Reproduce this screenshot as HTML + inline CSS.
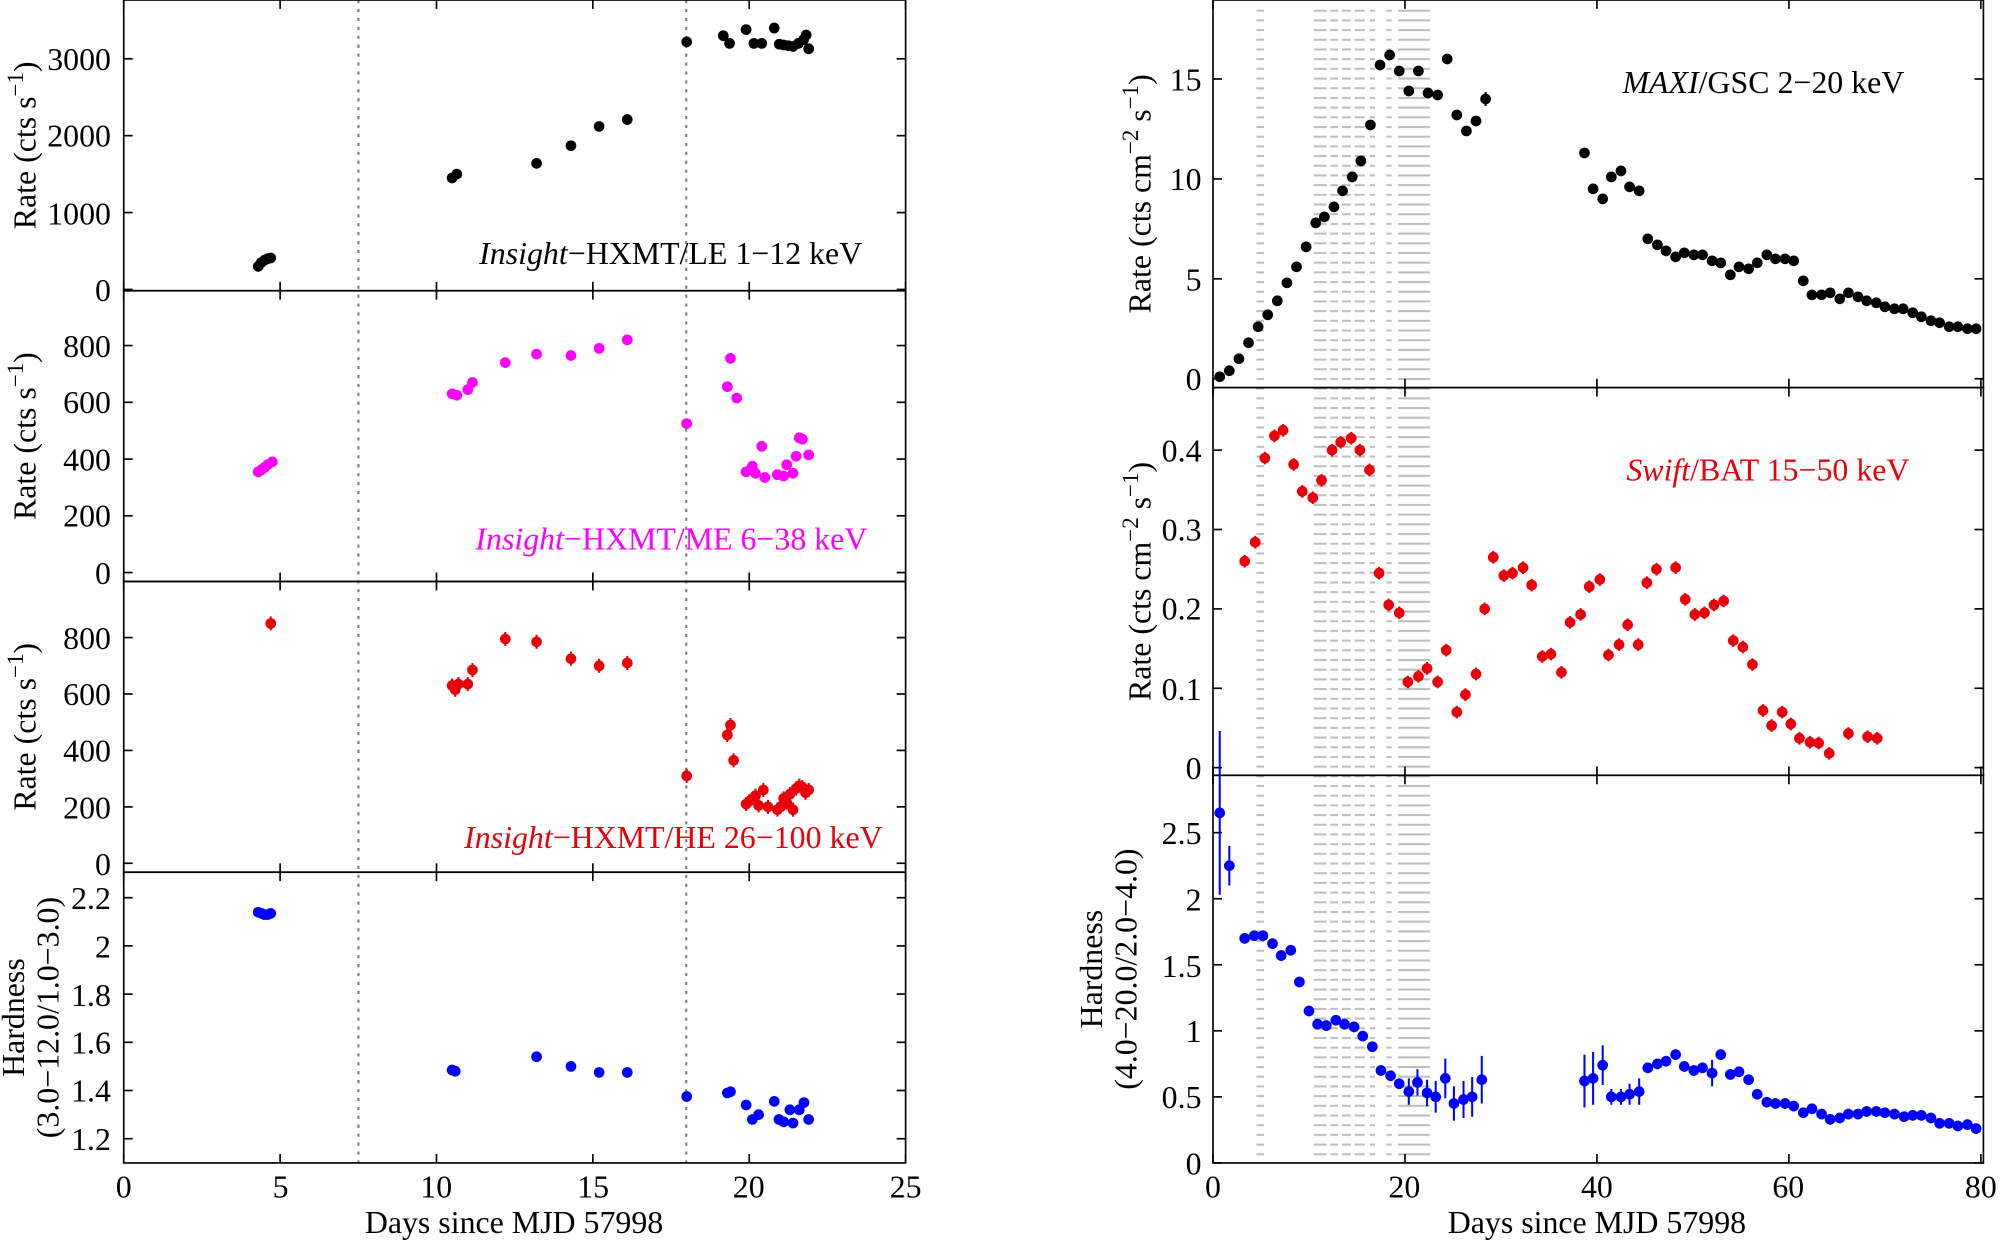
<!DOCTYPE html>
<html><head><meta charset="utf-8"><style>
html,body{margin:0;padding:0;background:#fff;}
svg{display:block;}
text{font-family:"Liberation Serif","Times New Roman",serif;fill:#000;}
</style></head><body>
<svg id="s" width="2000" height="1242" viewBox="0 0 1568 974" preserveAspectRatio="none" xmlns="http://www.w3.org/2000/svg">
<defs>
<pattern id="hp" x="0" y="0" width="4" height="7.6" patternUnits="userSpaceOnUse">
<rect x="0" y="0" width="4" height="1.6" fill="#bdbdbd"/>
</pattern>
</defs>
<rect width="1568" height="974" fill="#fff"/>
<g>
<rect x="985" y="2" width="6" height="910" fill="url(#hp)"/>
<rect x="1030" y="2" width="10" height="910" fill="url(#hp)"/>
<rect x="1043" y="2" width="6" height="910" fill="url(#hp)"/>
<rect x="1052" y="2" width="7" height="910" fill="url(#hp)"/>
<rect x="1062" y="2" width="8" height="910" fill="url(#hp)"/>
<rect x="1074" y="2" width="4" height="910" fill="url(#hp)"/>
<rect x="1087" y="2" width="4" height="910" fill="url(#hp)"/>
<rect x="1096" y="2" width="25" height="910" fill="url(#hp)"/>
</g>
<g id="g"></g>
<g font-size="25" font-family="Liberation Serif, Times New Roman, serif">
<g text-anchor="end">
<text x="87" y="236">0</text><text x="87" y="176">1000</text><text x="87" y="115">2000</text><text x="87" y="55">3000</text>
<text x="87" y="458">0</text><text x="87" y="413">200</text><text x="87" y="369">400</text><text x="87" y="324">600</text><text x="87" y="280">800</text>
<text x="87" y="686">0</text><text x="87" y="642">200</text><text x="87" y="597">400</text><text x="87" y="553">600</text><text x="87" y="509">800</text>
<text x="87" y="902">1.2</text><text x="87" y="864">1.4</text><text x="87" y="826">1.6</text><text x="87" y="789">1.8</text><text x="87" y="751">2</text><text x="87" y="713">2.2</text>
<text x="942" y="306">0</text><text x="942" y="228">5</text><text x="942" y="149">10</text><text x="942" y="71">15</text>
<text x="942" y="611">0</text><text x="942" y="549">0.1</text><text x="942" y="486">0.2</text><text x="942" y="424">0.3</text><text x="942" y="362">0.4</text>
<text x="942" y="921">0</text><text x="942" y="869">0.5</text><text x="942" y="817">1</text><text x="942" y="766">1.5</text><text x="942" y="714">2</text><text x="942" y="662">2.5</text>
</g>
<g text-anchor="middle">
<text x="97" y="939">0</text><text x="220" y="939">5</text><text x="342" y="939">10</text><text x="465" y="939">15</text><text x="587" y="939">20</text><text x="710" y="939">25</text>
<text x="951" y="939">0</text><text x="1101" y="939">20</text><text x="1252" y="939">40</text><text x="1402" y="939">60</text><text x="1553" y="939">80</text>
<text x="403" y="967">Days since MJD 57998</text>
<text x="1252" y="967">Days since MJD 57998</text>
</g>
<g text-anchor="middle">
<text transform="translate(28,114) rotate(-90)">Rate (cts s<tspan dy="-10" font-size="18">−1</tspan><tspan dy="10">)</tspan></text>
<text transform="translate(28,342) rotate(-90)">Rate (cts s<tspan dy="-10" font-size="18">−1</tspan><tspan dy="10">)</tspan></text>
<text transform="translate(28,570) rotate(-90)">Rate (cts s<tspan dy="-10" font-size="18">−1</tspan><tspan dy="10">)</tspan></text>
<text transform="translate(19,798) rotate(-90)">Hardness</text>
<text transform="translate(46,798) rotate(-90)">(3.0−12.0/1.0−3.0)</text>
<text transform="translate(902,152) rotate(-90)">Rate (cts cm<tspan dy="-10" font-size="18">−2</tspan><tspan dy="10"> s</tspan><tspan dy="-10" font-size="18">−1</tspan><tspan dy="10">)</tspan></text>
<text transform="translate(902,456) rotate(-90)">Rate (cts cm<tspan dy="-10" font-size="18">−2</tspan><tspan dy="10"> s</tspan><tspan dy="-10" font-size="18">−1</tspan><tspan dy="10">)</tspan></text>
<text transform="translate(864,760) rotate(-90)">Hardness</text>
<text transform="translate(891,760) rotate(-90)">(4.0−20.0/2.0−4.0)</text>
</g>
<g text-anchor="end" font-size="25">
<text x="676" y="207"><tspan font-style="italic">Insight</tspan>−HXMT/LE 1−12 keV</text>
<text x="680" y="431" style="fill:#ff00ff"><tspan font-style="italic">Insight</tspan>−HXMT/ME 6−38 keV</text>
<text x="692" y="665" style="fill:#e8000b"><tspan font-style="italic">Insight</tspan>−HXMT/HE 26−100 keV</text>
<text x="1493" y="73"><tspan font-style="italic">MAXI</tspan>/GSC 2−20 keV</text>
<text x="1497" y="377" style="fill:#e8000b"><tspan font-style="italic">Swift</tspan>/BAT 15−50 keV</text>
</g>
</g>
</svg>
<script>
const NS="http://www.w3.org/2000/svg",G=document.getElementById('g');
function el(t,a){const e=document.createElementNS(NS,t);for(const k in a)e.setAttribute(k,a[k]);G.appendChild(e);return e;}
function line(x1,y1,x2,y2,c,w,d){const a={x1,y1,x2,y2,stroke:c||'#000','stroke-width':w||1.3};if(d)a['stroke-dasharray']=d;el('line',a);}
line(281,0,281,912,'#777',1.6,'2.5,4.5');line(538,0,538,912,'#777',1.6,'2.5,4.5');
const LX=d=>97+d*24.52, RX=d=>951+d*7.525;
const Lp=[[0,228,v=>227-v*0.0603,[0,1000,2000,3000]],[228,456,v=>449-v*0.2225,[0,200,400,600,800]],[456,684,v=>677-v*0.22125,[0,200,400,600,800]],[684,912,v=>704+(2.2-v)*189,[1.2,1.4,1.6,1.8,2,2.2]]];
const Rp=[[0,304,v=>297-v*15.67,[0,5,10,15]],[304,608,v=>602-v*622.5,[0,0.1,0.2,0.3,0.4]],[608,912,v=>912-v*103.6,[0,0.5,1,1.5,2,2.5]]];
function frame(x0,x1,p,xt,xf){const [t,b,f,yt]=p;el('rect',{x:x0,y:t,width:x1-x0,height:b-t,fill:'none',stroke:'#000','stroke-width':1.3});
for(const v of yt){const y=f(v);line(x0,y,x0+7,y);line(x1,y,x1-7,y);}
for(const v of xt){const x=xf(v);line(x,t,x,t+7);line(x,b,x,b-7);}}
Lp.forEach(p=>frame(97,710,p,[0,5,10,15,20,25],LX));
Rp.forEach(p=>frame(951,1555,p,[0,20,40,60,80],RX));
function pts(data,xf,yf,c,r,e){for(const d of data){const x=xf(d[0]),y=yf(d[1]);const er=d[2]!==undefined?d[2]:e;if(er){line(x,yf(d[1]-er),x,yf(d[1]+er),c,1.6);}el('circle',{cx:x,cy:y,r:r||4.2,fill:c});}}
const LE=[[4.3,300],[4.4,350],[4.5,380],[4.6,400],[4.7,410],[10.5,1450],[10.65,1500],[13.2,1640],[14.3,1870],[15.2,2120],[16.1,2210],[18,3220],[19.17,3300],[19.37,3200],[19.9,3380],[20.15,3200],[20.4,3200],[20.8,3400],[20.96,3190],[21.1,3180],[21.25,3170],[21.4,3160],[21.57,3200],[21.74,3250],[21.82,3310],[21.9,3130]];
pts(LE,LX,Lp[0][2],'#000');
const ME=[[4.3,355],[4.4,362],[4.5,370],[4.6,380],[4.75,390],[10.5,630],[10.65,625],[11,645],[11.15,670],[12.2,740],[13.2,770],[14.3,765],[15.2,790],[16.1,820],[18,525],[19.3,655],[19.4,755],[19.6,615],[19.9,355],[20.1,375],[20.2,350],[20.4,445],[20.5,335],[20.9,345],[21.1,340],[21.2,380],[21.4,350],[21.5,410],[21.6,475],[21.7,470],[21.9,415]];
pts(ME,LX,Lp[1][2],'#ff00ff');
const HE=[[4.7,850],[10.5,630],[10.6,615],[10.7,635],[11,635],[11.15,685],[12.2,795],[13.2,785],[14.3,725],[15.2,700],[16.1,710],[18,310],[19.3,455],[19.4,490],[19.5,365],[19.9,210],[20,220],[20.2,240],[20.3,205],[20.45,260],[20.6,200],[20.9,190],[21,200],[21.1,230],[21.2,215],[21.3,245],[21.4,190],[21.5,265],[21.6,275],[21.7,270],[21.8,250],[21.9,260]];
pts(HE,LX,Lp[2][2],'#e8000b',4.2,25);
const HL=[[4.3,2.14],[4.4,2.135],[4.5,2.13],[4.6,2.13],[4.7,2.135],[10.5,1.485],[10.6,1.48],[13.2,1.54],[14.3,1.5],[15.2,1.475],[16.1,1.475],[18,1.375],[19.3,1.39],[19.4,1.395],[19.9,1.34],[20.1,1.28],[20.3,1.3],[20.8,1.355],[20.95,1.28],[21.1,1.27],[21.3,1.32],[21.4,1.265],[21.6,1.32],[21.75,1.35],[21.9,1.28]];
pts(HL,LX,Lp[3][2],'#0000ff');
const MX=[[0.7,0.1],[1.7,0.4],[2.7,1.0],[3.7,1.8],[4.7,2.6],[5.7,3.2],[6.7,3.9],[7.7,4.8],[8.7,5.6],[9.7,6.6],[10.7,7.8],[11.6,8.1],[12.6,8.6],[13.5,9.4],[14.5,10.1],[15.4,10.9],[16.4,12.7],[17.4,15.7],[18.4,16.2],[19.4,15.4],[20.4,14.4],[21.4,15.4],[22.4,14.3],[23.4,14.2],[24.4,16.0],[25.4,13.2],[26.4,12.4],[27.4,12.9],[28.4,14.0,0.35],
[38.7,11.3,0.25],[39.6,9.5],[40.6,9.0],[41.5,10.1],[42.5,10.4],[43.4,9.6],[44.4,9.4],[45.3,7.0],[46.3,6.7],[47.2,6.4],[48.2,6.1],[49.1,6.3],[50.1,6.2],[51,6.2],[52,5.9],[52.9,5.8],[53.9,5.2],[54.8,5.6],[55.8,5.5],[56.7,5.8],[57.7,6.2],[58.6,6.0],[59.6,6.0],[60.5,5.9],[61.5,4.9],[62.4,4.2],[63.4,4.2],[64.3,4.3],[65.3,4.0],[66.2,4.3],[67.2,4.1],[68.1,3.9],[69.1,3.8],[70,3.6],[71,3.5],[71.9,3.5],[72.9,3.3],[73.8,3.1],[74.8,2.9],[75.7,2.8],[76.7,2.6],[77.6,2.6],[78.6,2.5],[79.5,2.5]];
pts(MX,RX,Rp[0][2],'#000',4.2,0.15);
const BAT=[[3.3,0.26],[4.4,0.284],[5.4,0.39],[6.4,0.418],[7.3,0.425],[8.4,0.382],[9.3,0.348],[10.4,0.34],[11.3,0.362],[12.4,0.4],[13.3,0.41],[14.4,0.415],[15.3,0.4],[16.3,0.375],[17.3,0.245],[18.3,0.205],[19.4,0.195],[20.3,0.108],[21.4,0.115],[22.3,0.125],[23.4,0.108],[24.3,0.148],[25.4,0.07],[26.3,0.092],[27.4,0.118],[28.3,0.2],[29.2,0.265],[30.3,0.242],[31.2,0.245],[32.3,0.252],[33.2,0.23],[34.3,0.14],[35.2,0.143],[36.3,0.12],[37.2,0.183],[38.3,0.193],[39.2,0.228],[40.3,0.237],[41.2,0.142],[42.3,0.155],[43.2,0.18],[44.3,0.155],[45.2,0.233],[46.2,0.25],[48.2,0.252],[49.2,0.212],[50.2,0.193],[51.2,0.195],[52.2,0.205],[53.2,0.21],[54.2,0.16],[55.2,0.152],[56.2,0.13],[57.3,0.072],[58.2,0.053],[59.3,0.07],[60.2,0.055],[61.1,0.037],[62.2,0.032],[63.1,0.031],[64.2,0.018],[66.2,0.043],[68.2,0.039],[69.2,0.037]];
pts(BAT,RX,Rp[1][2],'#e8000b',4.2,0.008);
const HR=[[0.7,2.65,0.62],[1.7,2.25,0.15],[3.3,1.7],[4.3,1.72],[5.2,1.72],[6.2,1.66],[7.1,1.57],[8.1,1.61],[9,1.37],[10,1.15],[10.9,1.05],[11.8,1.04],[12.8,1.08],[13.7,1.05],[14.7,1.03],[15.6,0.96],[16.6,0.88],[17.5,0.7],[18.5,0.66],[19.4,0.6],[20.4,0.54,0.1],[21.3,0.61,0.1],[22.3,0.53,0.1],[23.2,0.5,0.12],[24.2,0.64,0.15],[25.1,0.45,0.13],[26.1,0.48,0.14],[27,0.5,0.15],[28,0.63,0.18],[38.7,0.62,0.2],[39.6,0.64,0.2],[40.6,0.74,0.15],[41.5,0.5,0.06],[42.5,0.5,0.06],[43.4,0.52,0.08],[44.4,0.54,0.1],[45.3,0.72],[46.3,0.75],[47.2,0.77],[48.2,0.82],[49.1,0.73],[50.1,0.7],[51,0.72],[52,0.68,0.1],[52.9,0.82],[53.9,0.67],[54.8,0.69],[55.8,0.63],[56.7,0.52],[57.7,0.46],[58.6,0.45],[59.6,0.45],[60.5,0.43],[61.5,0.38],[62.4,0.41],[63.4,0.37],[64.3,0.33],[65.3,0.34],[66.2,0.37],[67.2,0.37],[68.1,0.39],[69.1,0.39],[70,0.38],[71,0.37],[72,0.35],[72.9,0.36],[73.8,0.36],[74.8,0.34],[75.7,0.3],[76.7,0.3],[77.6,0.28],[78.6,0.29],[79.5,0.26]];
pts(HR,RX,Rp[2][2],'#0000ff',4.2,0.04);
</script>
</body></html>
